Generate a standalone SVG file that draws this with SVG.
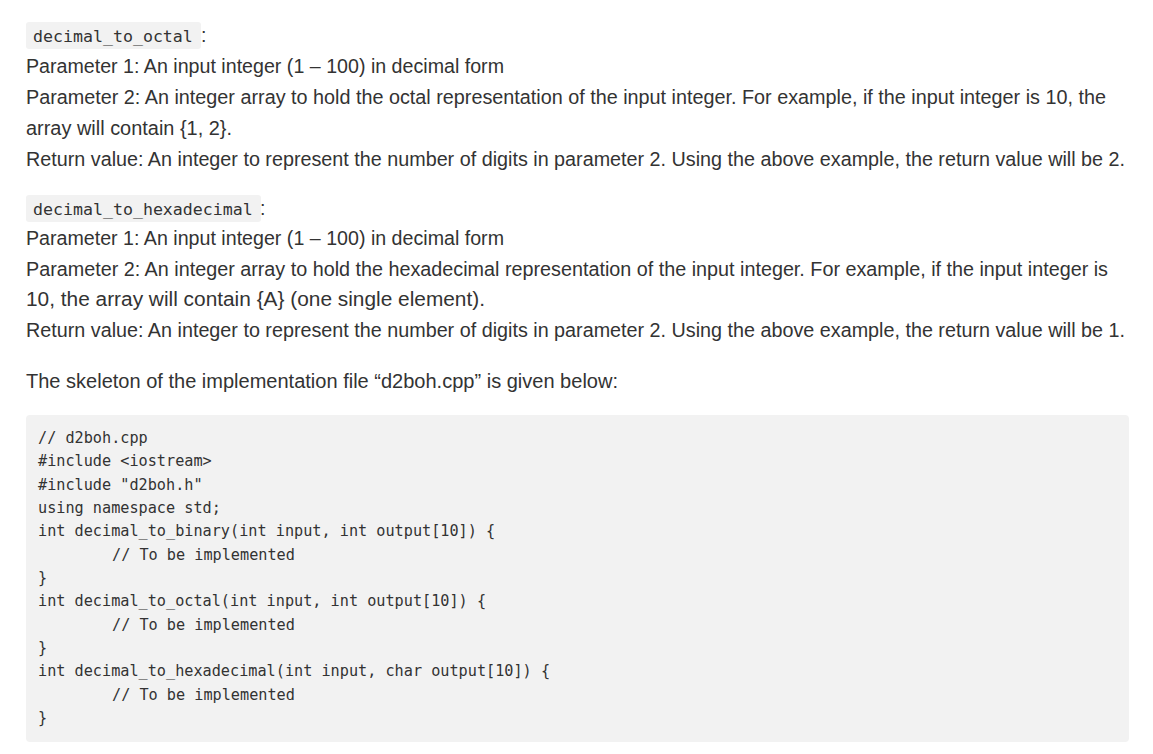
<svg xmlns="http://www.w3.org/2000/svg" width="1153" height="754" viewBox="0 0 1153 754">
<style>
.t{font-family:"Liberation Sans",Arial,sans-serif;font-size:19.5px;fill:#333}
.ic{font-family:"DejaVu Sans Mono","Liberation Mono",monospace;font-size:16.6px;fill:#333}
.c{font-family:"DejaVu Sans Mono","Liberation Mono",monospace;font-size:15.2px;fill:#333;white-space:pre}
.bg{fill:#f2f2f2}
</style>
<rect width="1153" height="754" fill="#fff"/>
<rect class="bg" x="26" y="22" width="175" height="27" rx="3"/>
<text class="ic" x="33" y="42">decimal_to_octal</text><text class="t" x="201" y="42">:</text>
<text class="t" x="26" y="73" textLength="478" lengthAdjust="spacingAndGlyphs">Parameter 1: An input integer (1 – 100) in decimal form</text>
<text class="t" x="26" y="104" textLength="1080" lengthAdjust="spacingAndGlyphs">Parameter 2: An integer array to hold the octal representation of the input integer. For example, if the input integer is 10, the</text>
<text class="t" x="26" y="135" textLength="206" lengthAdjust="spacingAndGlyphs">array will contain {1, 2}.</text>
<text class="t" x="26" y="166" textLength="1099" lengthAdjust="spacingAndGlyphs">Return value: An integer to represent the number of digits in parameter 2. Using the above example, the return value will be 2.</text>
<rect class="bg" x="26" y="195" width="235" height="27" rx="3"/>
<text class="ic" x="33" y="215">decimal_to_hexadecimal</text><text class="t" x="260" y="215">:</text>
<text class="t" x="26" y="245" textLength="478" lengthAdjust="spacingAndGlyphs">Parameter 1: An input integer (1 – 100) in decimal form</text>
<text class="t" x="26" y="276" textLength="1082" lengthAdjust="spacingAndGlyphs">Parameter 2: An integer array to hold the hexadecimal representation of the input integer. For example, if the input integer is</text>
<text class="t" x="26" y="306" textLength="459" lengthAdjust="spacingAndGlyphs">10, the array will contain {A} (one single element).</text>
<text class="t" x="26" y="337" textLength="1099" lengthAdjust="spacingAndGlyphs">Return value: An integer to represent the number of digits in parameter 2. Using the above example, the return value will be 1.</text>
<text class="t" x="26" y="388" textLength="592" lengthAdjust="spacingAndGlyphs">The skeleton of the implementation file “d2boh.cpp” is given below:</text>
<rect class="bg" x="26" y="415" width="1103" height="327" rx="4"/>
<text class="c" x="38" y="443">// d2boh.cpp</text>
<text class="c" x="38" y="466">#include &lt;iostream&gt;</text>
<text class="c" x="38" y="490">#include "d2boh.h"</text>
<text class="c" x="38" y="513">using namespace std;</text>
<text class="c" x="38" y="536">int decimal_to_binary(int input, int output[10]) {</text>
<text class="c" x="112" y="560">// To be implemented</text>
<text class="c" x="38" y="583">}</text>
<text class="c" x="38" y="606">int decimal_to_octal(int input, int output[10]) {</text>
<text class="c" x="112" y="630">// To be implemented</text>
<text class="c" x="38" y="653">}</text>
<text class="c" x="38" y="676">int decimal_to_hexadecimal(int input, char output[10]) {</text>
<text class="c" x="112" y="700">// To be implemented</text>
<text class="c" x="38" y="723">}</text>
</svg>
